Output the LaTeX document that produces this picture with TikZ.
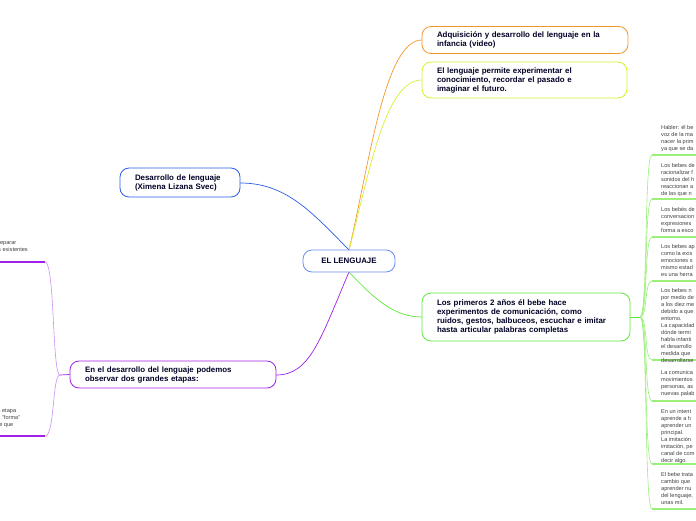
\documentclass[tikz,border=0pt]{standalone}
\usepackage{fontspec}
\setmainfont{Liberation Sans}
\begin{document}
\begin{tikzpicture}[x=1pt,y=-1pt,
  topic/.style={draw,rounded corners=9pt,line width=0.8pt,fill=white,align=left,font=\fontsize{7.9}{9}\selectfont\bfseries,text=black!85!blue,inner sep=0pt},
  leaf/.style={anchor=north west,align=left,font=\fontsize{5.6}{7}\selectfont,text=black!75,inner sep=0pt},
  conn/.style={line width=0.7pt}]
\useasboundingbox (0,0) rectangle (696,520);
\clip (0,0) rectangle (696,520);
\definecolor{cb}{HTML}{2A5CE8}\definecolor{co}{HTML}{F5962A}\definecolor{cy}{HTML}{D8F02A}
\definecolor{cg}{HTML}{5EE83A}\definecolor{cp}{HTML}{A020E8}\definecolor{clg}{HTML}{9AF07A}\definecolor{clp}{HTML}{C890F0}
% connectors
\coordinate (ct) at (349,250); \coordinate (cbm) at (349,272);
\draw[conn,co] (ct) .. controls (370,160) and (385,40) .. (422,40);
\draw[conn,cy] (ct) .. controls (370,170) and (385,80) .. (422,80);
\draw[conn,cb] (ct) .. controls (310,210) and (285,183) .. (240,183);
\draw[conn,cg] (cbm) .. controls (375,300) and (395,317) .. (422,317);
\draw[conn,cp] (cbm) .. controls (320,340) and (310,375) .. (276,375);
\node[topic,draw=cb!70,minimum width=92pt,minimum height=22pt,align=center] (c) at (349,261) {EL LENGUAJE};
\node[topic,draw=co,minimum width=206pt,minimum height=27pt,text width=176pt] (a) at (525,40) {Adquisición y desarrollo del lenguaje en la\\infancia (video)};
\node[topic,draw=cy,minimum width=205pt,minimum height=36pt,text width=175pt] (b) at (524.5,80) {El lenguaje permite experimentar el\\conocimiento, recordar el pasado e\\imaginar el futuro.};
\node[topic,draw=cb,minimum width=120pt,minimum height=29pt,text width=90pt] (cc) at (180,182.5) {Desarrollo de lenguaje\\(Ximena Lizana Svec)};
\node[topic,draw=cg,minimum width=208pt,minimum height=48pt,text width=178pt] (d) at (526,317) {Los primeros 2 años él bebe hace\\experimentos de comunicación, como\\ruidos, gestos, balbuceos, escuchar e imitar\\hasta articular palabras completas};
\node[topic,draw=cp,minimum width=206pt,minimum height=27pt,text width=176pt] (e) at (173,374.5) {En el desarrollo del lenguaje podemos\\observar dos grandes etapas:};
% right leaves
\coordinate (fk) at (640,317);
\draw[conn,cg] (d.east) -- (fk);
\foreach \y in {155,199,237,281,360,401,464,509}{
  \draw[clg,line width=0.6pt] (fk) .. controls (648,317) and (644,\y) .. (652,\y);
  \draw[clg,line width=1.2pt] (652,\y) -- (700,\y);}
\node[leaf] (l1) at (661,125) {Habler: él be\\voz de la ma\\nacer la prim\\ya que se da};
\node[leaf] (l2) at (661,163) {Los bebes de\\racionalizar f\\sonidos del h\\reaccionan a\\de las que n};
\node[leaf] (l3) at (661,207) {Los bebés de\\conversacion\\expresiones\\forma a esco};
\node[leaf] (l4) at (661,244) {Los bebes ap\\como la exis\\emociones s\\mismo estad\\es una herra};
\node[leaf] (l5) at (661,288) {Los bebes n\\por medio de\\a los diez me\\debido a que\\entorno.\\La capacidad\\dónde termi\\habla infanti\\el desarrollo\\medida que\\desarrollarse};
\node[leaf] (l6) at (661,370) {La comunica\\movimientos\\personas, as\\nuevas palab};
\node[leaf] (l7) at (661,409) {En un intent\\aprende a h\\aprender un\\principal.\\La imitación\\imitación, pe\\canal de com\\decir algo.};
\node[leaf] (l8) at (661,472) {El bebe trata\\cambio que\\aprender nu\\del lenguaje,\\unas mil.};
% left leaves
\coordinate (fl) at (60,375);
\draw[conn,cp] (e.west) -- (fl);
\foreach \y in {262,436}{
  \draw[clp,line width=0.6pt] (fl) .. controls (52,375) and (55,\y) .. (45,\y);
  \draw[cp,line width=1.2pt] (45,\y) -- (-5,\y);}
\node[leaf] (r1) at (-2,241) {reparar\\s existentes};
\node[leaf] (r2) at (-4,408) {la etapa\\la "forma"\\de que};
\end{tikzpicture}
\end{document}
